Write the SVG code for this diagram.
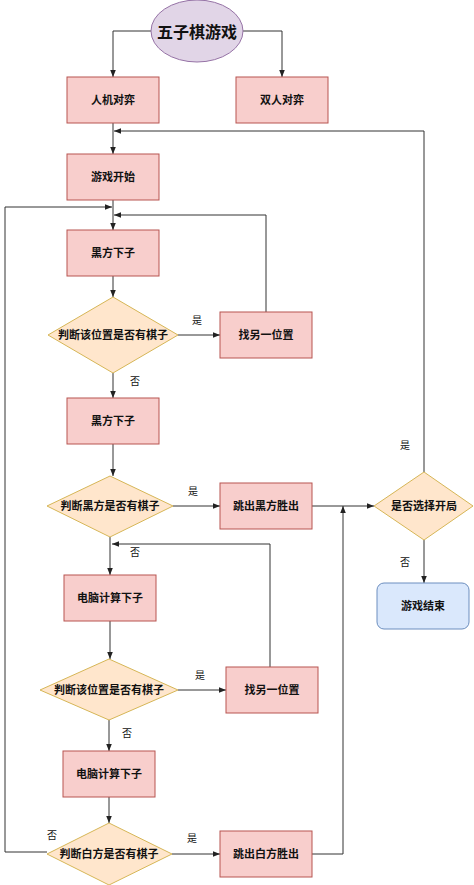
<svg xmlns="http://www.w3.org/2000/svg" width="474" height="885" viewBox="0 0 474 885">
<defs>
<marker id="arr" viewBox="0 0 10 10" refX="10" refY="5" markerWidth="7" markerHeight="7" orient="auto" markerUnits="userSpaceOnUse">
<path d="M0,1 L10,5 L0,9 Z" fill="#222"/>
</marker>
<style>
.box{fill:#f8cecc;stroke:#b85450;stroke-width:1}
.dia{fill:#ffe6cc;stroke:#d6b656;stroke-width:1}
.end{fill:#dae8fc;stroke:#6c8ebf;stroke-width:1}
.ell{fill:#e1d5e7;stroke:#9673a6;stroke-width:1}
.t{font-family:"Liberation Sans","Noto Sans CJK SC",sans-serif;font-size:11px;font-weight:bold;fill:#111;text-anchor:middle;dominant-baseline:central}
.title{font-size:16px}
.lbl{font-family:"Liberation Sans","Noto Sans CJK SC",sans-serif;font-size:10px;fill:#111;text-anchor:middle;dominant-baseline:central}
.c{fill:none;stroke:#333;stroke-width:1}
.ca{fill:none;stroke:#333;stroke-width:1;marker-end:url(#arr)}
</style>
</defs>
<rect width="474" height="885" fill="#fff"/>
<g id="connectors">
<polyline class="ca" points="151,31 113,31 113,77"/>
<polyline class="ca" points="243,31 282,31 282,77"/>
<polyline class="ca" points="113,123 113,154"/>
<polyline class="ca" points="424,472 424,131 114,131"/>
<polyline class="ca" points="113,200 113,230"/>
<polyline class="ca" points="5,852 5,207 112,207"/>
<polyline class="ca" points="266,312 266,215 114,215"/>
<polyline class="ca" points="113,276 113,297"/>
<polyline class="ca" points="178,335 220,335"/>
<polyline class="ca" points="113,373 113,398"/>
<polyline class="ca" points="113,444 113,476"/>
<polyline class="ca" points="173,506 220,506"/>
<polyline class="ca" points="312,506 374,506"/>
<polyline class="ca" points="424,540 424,583"/>
<polyline class="ca" points="110,537 110,575"/>
<polyline class="ca" points="270,667 270,544 112,544"/>
<polyline class="ca" points="110,621 110,659"/>
<polyline class="ca" points="178,690 226,690"/>
<polyline class="ca" points="109,720 109,751"/>
<polyline class="ca" points="109,797 109,823"/>
<polyline class="ca" points="172,854 220,854"/>
<polyline class="ca" points="312,854 343,854 343,506"/>
<polyline class="c" points="47,852 5,852"/>
<text class="lbl" x="197" y="320">是</text>
<text class="lbl" x="135" y="381">否</text>
<text class="lbl" x="193" y="491">是</text>
<text class="lbl" x="135" y="552">否</text>
<text class="lbl" x="405" y="445">是</text>
<text class="lbl" x="405" y="562">否</text>
<text class="lbl" x="200" y="675">是</text>
<text class="lbl" x="127" y="733">否</text>
<text class="lbl" x="52" y="835">否</text>
<text class="lbl" x="192" y="838">是</text>
</g>
<g id="n_title"><ellipse class="ell" cx="197" cy="31" rx="46" ry="31"/><text class="t title" x="197" y="32">五子棋游戏</text></g>
<g id="n_pve"><rect class="box" x="67" y="77" width="92" height="46"/><text class="t" x="113" y="100">人机对弈</text></g>
<g id="n_pvp"><rect class="box" x="236" y="77" width="92" height="46"/><text class="t" x="282" y="100">双人对弈</text></g>
<g id="n_start"><rect class="box" x="67" y="154" width="92" height="46"/><text class="t" x="113" y="177">游戏开始</text></g>
<g id="n_black1"><rect class="box" x="67" y="230" width="92" height="46"/><text class="t" x="113" y="253">黑方下子</text></g>
<g id="n_check1"><polygon class="dia" points="113,297 178,335 113,373 48,335"/><text class="t" x="113" y="335">判断该位置是否有棋子</text></g>
<g id="n_other1"><rect class="box" x="220" y="312" width="92" height="46"/><text class="t" x="266" y="335">找另一位置</text></g>
<g id="n_black2"><rect class="box" x="67" y="398" width="92" height="46"/><text class="t" x="113" y="421">黑方下子</text></g>
<g id="n_checkb"><polygon class="dia" points="110,476 173,506 110,537 47,506"/><text class="t" x="110" y="506">判断黑方是否有棋子</text></g>
<g id="n_bwin"><rect class="box" x="220" y="483" width="92" height="46"/><text class="t" x="266" y="506">跳出黑方胜出</text></g>
<g id="n_again"><polygon class="dia" points="424,472 473,506 424,540 374,506"/><text class="t" x="424" y="506">是否选择开局</text></g>
<g id="n_end"><rect class="end" x="377" y="583" width="92" height="46" rx="7"/><text class="t" x="423" y="606">游戏结束</text></g>
<g id="n_pc1"><rect class="box" x="64" y="575" width="92" height="46"/><text class="t" x="110" y="598">电脑计算下子</text></g>
<g id="n_check2"><polygon class="dia" points="109,659 178,690 109,720 40,690"/><text class="t" x="109" y="690">判断该位置是否有棋子</text></g>
<g id="n_other2"><rect class="box" x="226" y="667" width="92" height="46"/><text class="t" x="272" y="690">找另一位置</text></g>
<g id="n_pc2"><rect class="box" x="63" y="751" width="92" height="46"/><text class="t" x="109" y="774">电脑计算下子</text></g>
<g id="n_checkw"><polygon class="dia" points="109,823 172,854 109,885 47,854"/><text class="t" x="109" y="854">判断白方是否有棋子</text></g>
<g id="n_wwin"><rect class="box" x="220" y="831" width="92" height="46"/><text class="t" x="266" y="854">跳出白方胜出</text></g>
</svg>
